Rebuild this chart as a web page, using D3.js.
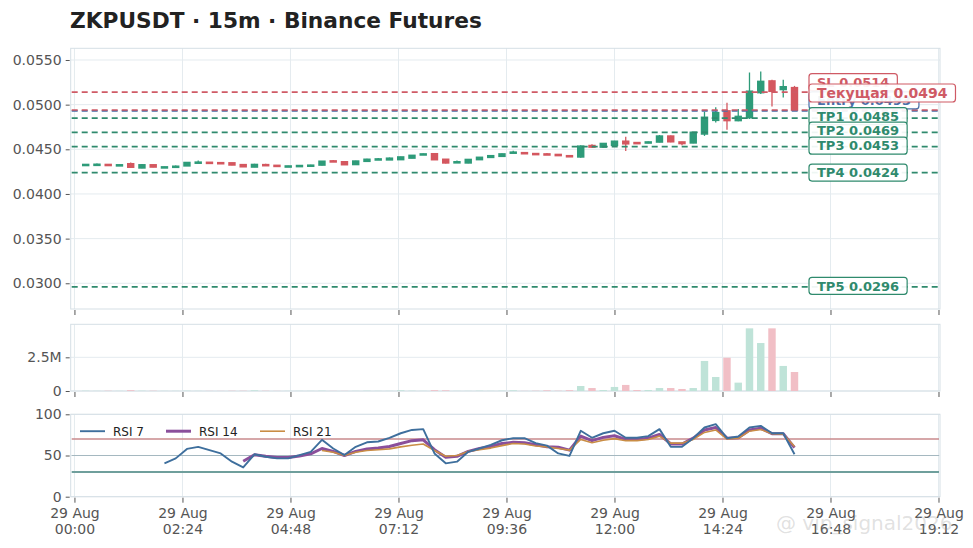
<!DOCTYPE html>
<html>
<head>
<meta charset="utf-8">
<script src="https://cdn.jsdelivr.net/npm/d3@7"></script>
<style>
  body { margin: 0; background: #fff; }
  svg { font-family: "DejaVu Sans", sans-serif; display: block; }
</style>
</head>
<body>
<svg id="chart" width="973" height="548"></svg>
<script>
const title = "ZKPUSDT · 15m · Binance Futures";
const firstCandle = new Date(2025, 7, 29, 0, 15);
const dayStart = new Date(2025, 7, 29, 0, 0);
const stepMinutes = 15;

const opens = [0.04328,0.04330,0.04330,0.04322,0.04338,0.04292,0.04326,0.04300,0.04305,0.04315,
  0.04352,0.04354,0.04350,0.04348,0.04328,0.04302,0.04328,0.04320,0.04310,0.04314,
  0.04318,0.04324,0.04370,0.04360,0.04330,0.04366,0.04388,0.04382,0.04385,0.04402,
  0.04442,0.04450,0.04388,0.04355,0.04348,0.04385,0.04410,0.04422,0.04462,0.04462,
  0.04452,0.04448,0.04442,0.04428,0.04415,0.04542,0.04525,0.04545,0.04590,0.04575,
  0.04572,0.04582,0.04648,0.04582,0.04572,0.04672,0.04825,0.04930,0.04822,0.04855,
  0.05135,0.05265,0.05170,0.05190];
const highs = [0.04332,0.04340,0.04332,0.04328,0.04352,0.04335,0.04330,0.04305,0.04318,0.04358,
  0.04375,0.04358,0.04352,0.04350,0.04330,0.04338,0.04338,0.04322,0.04316,0.04320,
  0.04328,0.04370,0.04380,0.04362,0.04372,0.04395,0.04402,0.04408,0.04418,0.04436,
  0.04452,0.04455,0.04392,0.04375,0.04390,0.04414,0.04432,0.04452,0.04485,0.04465,
  0.04456,0.04460,0.04445,0.04430,0.04545,0.04558,0.04570,0.04595,0.04640,0.04580,
  0.04588,0.04660,0.04655,0.04585,0.04695,0.04920,0.04970,0.05020,0.04950,0.05360,
  0.05370,0.05280,0.05280,0.05210];
const lows = [0.04326,0.04328,0.04320,0.04320,0.04296,0.04288,0.04298,0.04296,0.04300,0.04312,
  0.04350,0.04345,0.04344,0.04322,0.04302,0.04300,0.04312,0.04312,0.04308,0.04312,
  0.04316,0.04320,0.04358,0.04325,0.04328,0.04362,0.04385,0.04380,0.04380,0.04400,
  0.04440,0.04380,0.04340,0.04350,0.04345,0.04382,0.04406,0.04420,0.04458,0.04448,
  0.04444,0.04438,0.04428,0.04416,0.04405,0.04518,0.04520,0.04540,0.04482,0.04562,
  0.04568,0.04578,0.04580,0.04545,0.04568,0.04650,0.04800,0.04720,0.04815,0.04840,
  0.05120,0.04980,0.05080,0.04935];
const closes = [0.04330,0.04332,0.04322,0.04326,0.04300,0.04326,0.04302,0.04303,0.04310,0.04352,
  0.04356,0.04348,0.04346,0.04325,0.04305,0.04330,0.04318,0.04315,0.04313,0.04318,
  0.04322,0.04366,0.04362,0.04328,0.04368,0.04388,0.04392,0.04400,0.04414,0.04432,
  0.04448,0.04384,0.04348,0.04360,0.04386,0.04410,0.04428,0.04448,0.04468,0.04452,
  0.04446,0.04444,0.04430,0.04420,0.04535,0.04525,0.04565,0.04590,0.04562,0.04568,
  0.04582,0.04648,0.04585,0.04565,0.04690,0.04858,0.04910,0.04822,0.04868,0.05150,
  0.05260,0.05150,0.05200,0.04940];
// volume in millions
const volumes = [0.02,0.01,0.02,0.01,0.06,0.02,0.02,0.01,0.01,0.02,
  0.01,0.01,0.01,0.02,0.02,0.05,0.02,0.01,0.01,0.01,
  0.01,0.02,0.01,0.01,0.01,0.02,0.01,0.01,0.05,0.02,
  0.01,0.06,0.05,0.01,0.01,0.02,0.01,0.02,0.05,0.01,
  0.02,0.05,0.02,0.06,0.37,0.22,0.07,0.30,0.45,0.07,
  0.07,0.22,0.22,0.15,0.22,2.23,1.04,2.47,0.62,4.65,
  3.56,4.65,1.86,1.41];

const rsi7 = [null,null,null,null,null,null,null,40.5,46.5,58,
  60.5,56.5,52.5,42.5,35.5,51.5,48.5,46.5,46.5,50.5,
  54.5,69,58.5,50.5,60.5,66,67,71.5,77,81,
  82,52.5,40.5,42.5,54.5,58.5,63,68.5,71,71,
  65,62,52.5,49.5,80,71.5,77,80,71.5,71.5,
  73.5,82,60.5,60.5,71,84,88,71,73,84,
  86,77,77,51.5];
const rsi14 = [null,null,null,null,null,null,null,null,null,null,
  null,null,null,null,43,51,49,47.5,47.5,49.5,
  52,58.5,55,50,55,58,59,61,64.5,68,
  69,57,48,49,55,58.5,61,64.5,66,65.5,
  63,60.5,60,56.5,73.5,68,72,74,69.5,69.5,
  71,75.5,64,64,71,81,84,71,71.5,81,
  83,76.5,76.5,59.5];
const rsi21 = [null,null,null,null,null,null,null,null,null,null,
  null,null,null,null,null,null,null,null,null,null,
  null,56,54,50,54,56,57,58,60.5,62.5,
  64,56,49,50,55,57,59,62,64.5,64,
  61.5,60.5,58.5,56.5,69.5,65.5,68.5,70.5,68,68,
  69.5,73.5,65,65,69.5,78,81,70,71,79.5,
  81.5,76.5,76,61];

const levelNames = ["SL", "Entry", "TP1", "TP2", "TP3", "TP4", "TP5", "Текущая"];
const levelValues = [0.0514, 0.0493, 0.0485, 0.0469, 0.0453, 0.0424, 0.0296, 0.0494];
const levelKinds = ["stop", "entry", "tp", "tp", "tp", "tp", "tp", "last"];

const priceTicks = [0.030, 0.035, 0.040, 0.045, 0.050, 0.055];
const volumeTicks = [0, 2.5];
const rsiTicks = [0, 50, 100];
const rsiGuides = [70, 50, 30];
const rsiNames = ["RSI 7", "RSI 14", "RSI 21"];
const watermark = "@ vip_signal2026";

// ---- layout
const left = 70.7, right = 940;
const mainBox = { top: 48.3, bottom: 309 };
const volBox = { top: 324.3, bottom: 391 };
const rsiBox = { top: 414.3, bottom: 496.7 };

const green = "#2e9b79", red = "#d4575f";
const gridColor = "#e4ebef", frameColor = "#d5dfe5", tickColor = "#555", labelColor = "#555";
const kindColor = { stop: "#cf5a65", last: "#cf5a65", entry: "#4a6fa8", tp: "#2f8a6d" };
const tickFont = 14;

const candles = opens.map((o, i) => ({
  t: d3.timeMinute.offset(firstCandle, i * stepMinutes),
  o, h: highs[i], l: lows[i], c: closes[i], v: volumes[i],
  up: closes[i] >= o
}));

const timeTicks = d3.range(9).map(i => d3.timeMinute.offset(dayStart, 144 * i));

const x = d3.scaleTime()
  .domain([d3.timeMinute.offset(dayStart, -5), d3.timeMinute.offset(dayStart, 1154.7)])
  .range([left, right]);
const candleW = (x(d3.timeMinute.offset(dayStart, stepMinutes)) - x(dayStart)) * 0.66;

const y = d3.scaleLinear().domain([0.02712, 0.05631]).range([mainBox.bottom, mainBox.top]);
const yVol = d3.scaleLinear().domain([0, 4.95]).range([volBox.bottom, volBox.top]);
const yRsi = d3.scaleLinear().domain([0, 100]).range([rsiBox.bottom, rsiBox.top]);

const svg = d3.select("#chart");

svg.append("text")
  .attr("x", 70).attr("y", 28)
  .attr("font-size", 21.7).attr("font-weight", "bold").attr("fill", "#222")
  .text(title);

function panel(box, yScale, ticks, fmt, showTimeLabels) {
  const g = svg.append("g");
  // grid
  g.selectAll(".vg").data(timeTicks).enter().append("line")
    .attr("x1", d => x(d)).attr("x2", d => x(d))
    .attr("y1", box.top).attr("y2", box.bottom)
    .attr("stroke", gridColor).attr("stroke-width", 1);
  g.selectAll(".hg").data(ticks).enter().append("line")
    .attr("x1", left).attr("x2", right)
    .attr("y1", d => yScale(d)).attr("y2", d => yScale(d))
    .attr("stroke", gridColor).attr("stroke-width", 1);
  g.append("rect")
    .attr("x", left).attr("y", box.top)
    .attr("width", right - left).attr("height", box.bottom - box.top)
    .attr("fill", "none").attr("stroke", frameColor).attr("stroke-width", 1);

  const yAxis = g.append("g")
    .attr("transform", `translate(${left - 1},0)`)
    .call(d3.axisLeft(yScale).tickValues(ticks).tickFormat(fmt).tickSize(4).tickPadding(4));
  yAxis.select(".domain").remove();
  yAxis.selectAll("line").attr("stroke", tickColor);
  yAxis.selectAll("text").attr("font-size", tickFont).attr("fill", labelColor)
    .attr("font-family", "DejaVu Sans, sans-serif");

  const xAxis = g.append("g")
    .attr("transform", `translate(0,${box.bottom + 1})`)
    .call(d3.axisBottom(x).tickValues(timeTicks).tickSize(5)
      .tickFormat(showTimeLabels ? d3.timeFormat("%d %b") : ""));
  xAxis.select(".domain").remove();
  xAxis.selectAll("line").attr("stroke", tickColor);
  if (showTimeLabels) {
    const tf = d3.timeFormat("%H:%M");
    xAxis.selectAll(".tick text")
      .attr("font-size", tickFont).attr("fill", labelColor)
      .attr("font-family", "DejaVu Sans, sans-serif")
      .attr("y", 7).attr("dy", "0.95em")
      .each(function(d) {
        d3.select(this).append("tspan")
          .attr("x", 0).attr("dy", "1.15em").text(tf(d));
      });
  }
  return g;
}

// ---- main price panel
const mainG = panel(mainBox, y, priceTicks, d3.format(".4f"), false);

const candleG = mainG.append("g");
candleG.selectAll("line.wick").data(candles).enter().append("line")
  .attr("class", "wick")
  .attr("x1", d => x(d.t)).attr("x2", d => x(d.t))
  .attr("y1", d => y(d.h)).attr("y2", d => y(d.l))
  .attr("stroke", d => d.up ? green : red).attr("stroke-width", 1.3);
candleG.selectAll("rect.body").data(candles).enter().append("rect")
  .attr("class", "body")
  .attr("x", d => x(d.t) - candleW / 2)
  .attr("width", candleW)
  .attr("y", d => Math.min(y(d.o), y(d.c)) - 0.8)
  .attr("height", d => Math.max(Math.abs(y(d.o) - y(d.c)), 1) + 1.6)
  .attr("fill", d => d.up ? green : red);

const levels = levelNames.map((name, i) => ({
  name, value: levelValues[i], kind: levelKinds[i], color: kindColor[levelKinds[i]]
}));

mainG.selectAll("line.level").data(levels).enter().append("line")
  .attr("class", "level")
  .attr("x1", left + 1).attr("x2", right - 1)
  .attr("y1", d => y(d.value)).attr("y2", d => y(d.value))
  .attr("stroke", d => d.color).attr("stroke-width", 1.7)
  .attr("stroke-dasharray", "6,4");

// label shifts so the boxes near the price don't sit on each other
const labelShift = { SL: -10, Entry: -10.5, TP1: -2, TP2: -1.7, TP3: -1, TP4: 0, TP5: -1, "Текущая": -17 };
const labelX = right - 131;

const labelG = mainG.append("g");
levels.forEach(d => {
  const big = d.kind === "last";
  const cy = y(d.value) + labelShift[d.name];
  const g = labelG.append("g");
  const box = g.append("rect");
  const txt = g.append("text")
    .attr("x", labelX + 8).attr("y", cy).attr("dy", "0.36em")
    .attr("font-size", big ? 14 : 13).attr("font-weight", "bold")
    .attr("fill", d.color)
    .text(`${d.name} ${d.value.toFixed(4)}`);
  const w = txt.node().getComputedTextLength() + 16;
  const h = big ? 18 : 17;
  box.attr("x", labelX).attr("y", cy - h / 2)
    .attr("width", w).attr("height", h).attr("rx", 3)
    .attr("fill", "#fff").attr("fill-opacity", 0.92)
    .attr("stroke", d.color).attr("stroke-width", 1.2);
});

// ---- volume panel
const volG = panel(volBox, yVol, volumeTicks, d => d === 0 ? "0" : d + "M", false);
volG.selectAll("rect.vol").data(candles).enter().append("rect")
  .attr("class", "vol")
  .attr("x", d => x(d.t) - candleW / 2)
  .attr("width", candleW)
  .attr("y", d => yVol(d.v))
  .attr("height", d => yVol(0) - yVol(d.v))
  .attr("fill", d => d.up ? "#bfe3d8" : "#f1bfc6");

// ---- RSI panel
const rsiG = panel(rsiBox, yRsi, rsiTicks, d3.format("d"), true);
const guideStyle = { 70: ["#c98a8c", 1.6], 50: ["#a5b8c0", 1.1], 30: ["#6f9f9c", 1.8] };
rsiG.selectAll("line.guide").data(rsiGuides).enter().append("line")
  .attr("x1", left + 1).attr("x2", right - 1)
  .attr("y1", d => yRsi(d)).attr("y2", d => yRsi(d))
  .attr("stroke", d => guideStyle[d][0]).attr("stroke-width", d => guideStyle[d][1]);

const rsiSeries = [
  { name: rsiNames[0], values: rsi7, color: "#3e6f9d", width: 1.9 },
  { name: rsiNames[1], values: rsi14, color: "#8a4f9b", width: 3 },
  { name: rsiNames[2], values: rsi21, color: "#c98d45", width: 1.6 }
];
const rsiLine = d3.line()
  .defined(d => d.v != null)
  .x(d => x(d.t)).y(d => yRsi(d.v));

[rsiSeries[1], rsiSeries[2], rsiSeries[0]].forEach(s => {
  rsiG.append("path")
    .datum(candles.map((c, i) => ({ t: c.t, v: s.values[i] })))
    .attr("fill", "none").attr("stroke", s.color).attr("stroke-width", s.width)
    .attr("stroke-linejoin", "round")
    .attr("d", rsiLine);
});

const legendX = [80, 166, 260];
const legend = rsiG.selectAll("g.legend").data(rsiSeries).enter().append("g")
  .attr("class", "legend")
  .attr("transform", (d, i) => `translate(${legendX[i]},${yRsi(0) - 65.5})`);
legend.append("line")
  .attr("x1", 0).attr("x2", 25)
  .attr("stroke", d => d.color).attr("stroke-width", d => d.width);
legend.append("text")
  .attr("x", 33).attr("dy", "0.36em")
  .attr("font-size", 12).attr("fill", "#222")
  .text(d => d.name);

// watermark
svg.append("text")
  .attr("x", 776).attr("y", 530)
  .attr("font-size", 20).attr("fill", "#999").attr("fill-opacity", 0.3)
  .text(watermark);
</script>
</body>
</html>
